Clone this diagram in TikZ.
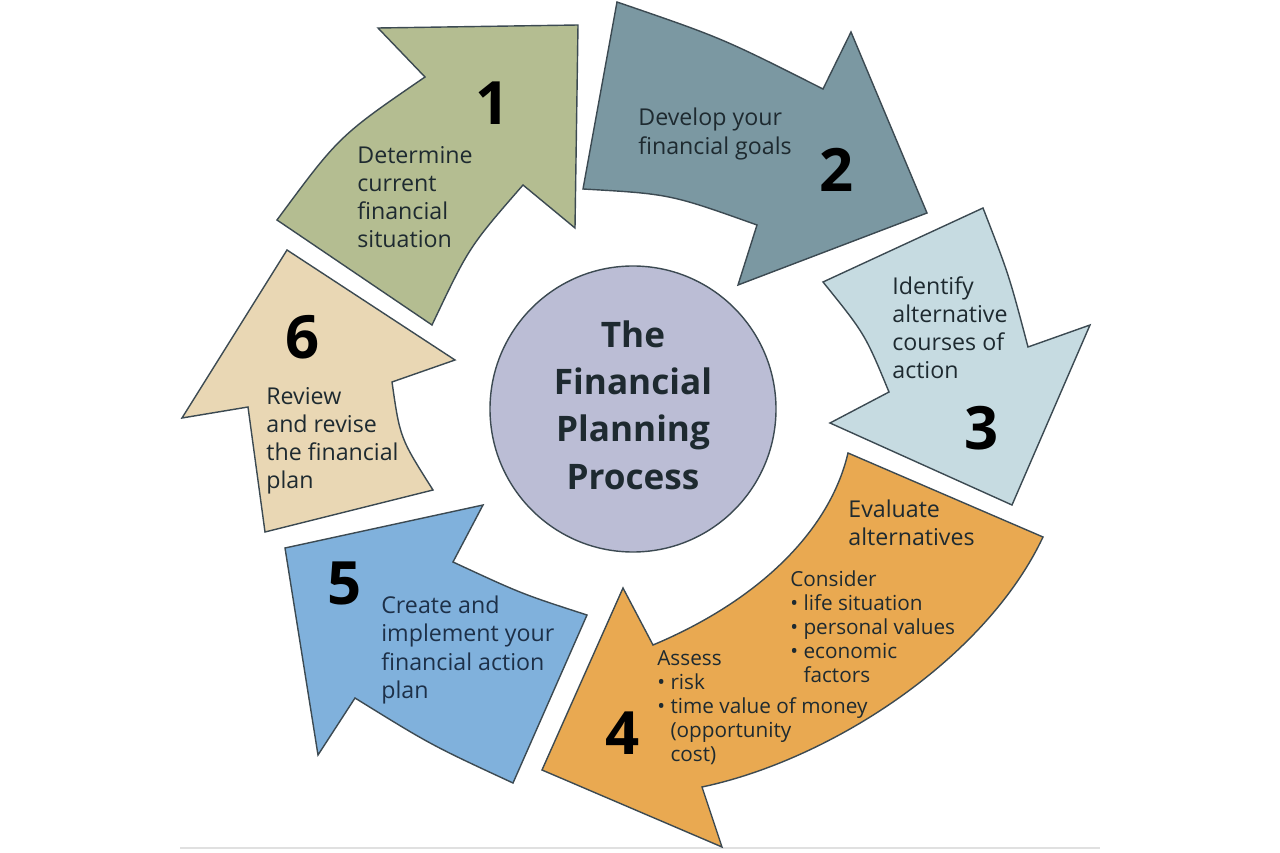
\documentclass[tikz,border=0pt]{standalone}
\usepackage{fontspec}
\setmainfont{Open Sans}
\definecolor{edge}{HTML}{3C4A52}
\definecolor{ink}{HTML}{1E2A30}
\definecolor{navy}{HTML}{1D3048}
\definecolor{sage}{HTML}{B4BD91}
\definecolor{steel}{HTML}{7B98A2}
\definecolor{ice}{HTML}{C6DBE1}
\definecolor{amber}{HTML}{E9A951}
\definecolor{sky}{HTML}{80B1DC}
\definecolor{sand}{HTML}{E9D7B4}
\definecolor{lilac}{HTML}{BBBDD5}
\begin{document}
\begin{tikzpicture}[x=.2mm, y=-.2mm,
    part/.style={draw=edge, line width=.8pt, line join=miter},
    lbl/.style={anchor=west, align=left, inner sep=0pt, text=ink, font=\fontsize{13.2}{16}\selectfont},
    small/.style={anchor=west, align=left, inner sep=0pt, text=ink, font=\fontsize{11.8}{13.6}\selectfont},
    num/.style={inner sep=0pt, font=\fontsize{34}{34}\selectfont\bfseries}]
\useasboundingbox (0,0) rectangle (1280,853);

\draw[line width=1.2pt, draw=black!12] (180,848)--(1100,848);

% step 1
\draw[part, fill=sage] (432,325)--(277,220) .. controls (339,136) .. (425,77)--(378,28)--(578,25)--(575,228)--(523,185) .. controls (469,247) .. (432,325)--cycle;
% step 2
\draw[part, fill=steel] (583,189)--(617,2) .. controls (722,38) .. (823,89)--(851,32)--(927,213)--(738,285)--(757,225) .. controls (670,194) .. (583,189)--cycle;
% step 3
\draw[part, fill=ice] (983,208)--(823,282) .. controls (865,334) .. (889,392)--(830,423)--(1012,505)--(1090,325)--(1028,347) .. controls (1009,275) .. (983,208)--cycle;
% step 4
\draw[part, fill=amber] (848,453)--(1043,537) .. controls (985,660) and (830,760) .. (702,787)--(722,847)--(542,770)--(623,588)--(653,645) .. controls (760,600) and (830,530) .. (848,453)--cycle;
% step 5
\draw[part, fill=sky] (587,615)--(513,783) .. controls (431,745) .. (355,698)--(318,755)--(285,548)--(483,505)--(453,562) .. controls (522,594) .. (587,615)--cycle;
% step 6
\draw[part, fill=sand] (265,532)--(433,490) .. controls (400,438) .. (392,382)--(455,360)--(287,250)--(182,418)--(248,407)--cycle;

\node[part, circle, fill=lilac, minimum size=286*.2mm, inner sep=0pt] (hub) at (633,409) {};
\node[align=center, text=ink, inner sep=0pt, font=\fontsize{20}{27}\selectfont\bfseries] (title) at (633,405) {The\\Financial\\Planning\\Process};

\node[num] (n1) at (493,103) {1};
\node[num] (n2) at (837,170) {2};
\node[num] (n3) at (982,428) {3};
\node[num] (n4) at (623,733) {4};
\node[num] (n5) at (345,583) {5};
\node[num] (n6) at (303,337) {6};

\node[lbl] (t1) at (357,197) {Determine\\current\\financial\\situation};
\node[lbl] (t2) at (638,134) {Develop your\\financial goals};
\node[lbl] (t3) at (892,328) {Identify\\alternative\\courses of\\action};
\node[lbl] (t4) at (848,523) {Evaluate\\alternatives};
\node[small] (t4a) at (790,627) {Consider\\\textbullet\ life situation\\\textbullet\ personal values\\\textbullet\ economic\\\phantom{\textbullet\ }factors};
\node[small] (t4b) at (657,708) {Assess\\\textbullet\ risk\\\textbullet\ time value of money\\\phantom{\textbullet\ }(opportunity\\\phantom{\textbullet\ }cost)};
\node[lbl, text=navy] (t5) at (381,650) {Create and\\implement your\\financial action\\plan};
\node[lbl] (t6) at (266,441) {Review\\and revise\\the financial\\plan};

\end{tikzpicture}
\end{document}
